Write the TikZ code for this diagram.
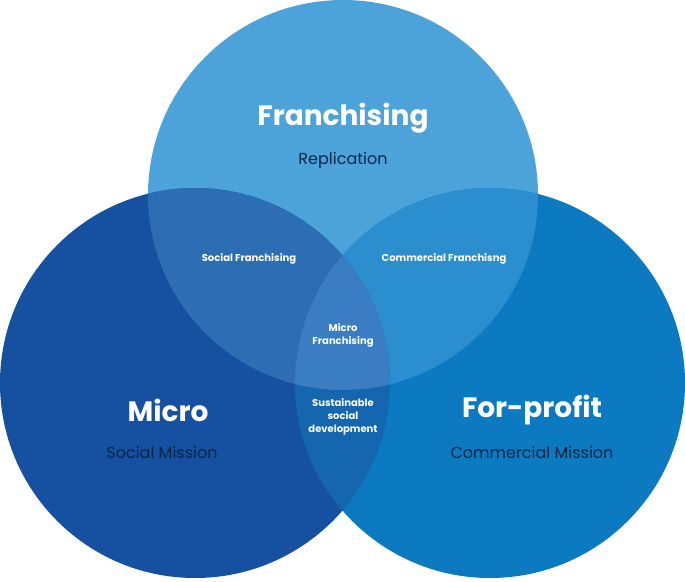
\documentclass[tikz,border=0pt]{standalone}
\usepackage{fontspec}
\setmainfont{Poppins}
\definecolor{topblue}{HTML}{4BA3DA}
\definecolor{leftblue}{HTML}{1650A0}
\definecolor{rightblue}{HTML}{0C7AC0}
\definecolor{tlblue}{HTML}{2C6DB4}
\definecolor{trblue}{HTML}{2B8ECF}
\definecolor{lrblue}{HTML}{1466AE}
\definecolor{midblue}{HTML}{3B7DC3}
\definecolor{navytext}{HTML}{0B2545}
\begin{document}
\begin{tikzpicture}[
      x=1pt, y=-1pt,
      title/.style={font=\bfseries\fontsize{28}{30}\selectfont, text=white},
      subtitle/.style={font=\fontsize{16}{18}\selectfont},
      small/.style={font=\bfseries\fontsize{10}{13}\selectfont, text=white, align=center}
    ]
    \useasboundingbox (0,0) rectangle (685,581);

    % circles
    \def\topc{(343,195) circle (195)}
    \def\leftc{(195,383) circle (195)}
    \def\rightc{(490,383) circle (195)}
    \fill[topblue] \topc;
    \fill[leftblue] \leftc;
    \fill[rightblue] \rightc;

    % overlaps
    \begin{scope}
      \clip \topc;
      \fill[tlblue] \leftc;
      \fill[trblue] \rightc;
    \end{scope}
    \begin{scope}
      \clip \leftc;
      \fill[lrblue] \rightc;
      \clip \rightc;
      \fill[midblue] \topc;
    \end{scope}

    % texts
    \node[title] (franch) at (343,118) {Franchising};
    \node[subtitle, text=navytext] (repl) at (343,160) {Replication};
    \node[title] (micro) at (168,410) {Micro};
    \node[subtitle, text=navytext] (social) at (162,452) {Social Mission};
    \node[title] (profit) at (532,410) {For-profit};
    \node[subtitle, text=navytext] (comm) at (532,452) {Commercial Mission};

    \node[small] (sfran) at (249,259) {Social Franchising};
    \node[small] (cfran) at (444,259) {Commercial Franchisng};
    \node[small] (mfran) at (343,335) {Micro\\Franchising};
    \node[small] (sdev) at (343,417) {Sustainable\\social\\development};
\end{tikzpicture}
\end{document}
